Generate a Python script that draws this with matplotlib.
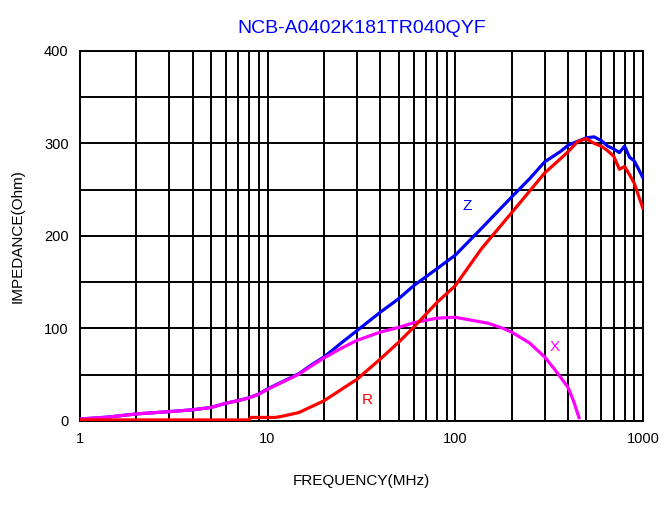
import matplotlib
matplotlib.use("Agg")
import matplotlib.pyplot as plt
from matplotlib.ticker import FixedLocator, NullFormatter

plt.rcParams['font.family'] = ['Liberation Sans', 'DejaVu Sans']

# donnees (MHz, Ohm)
freq_x = [1, 1.4, 2, 3, 4, 5, 6, 7, 8, 9, 10, 11.5, 14.7, 17, 20, 25, 30, 40, 50, 60, 80,
          100, 150, 180, 200, 250, 300, 335, 365, 400, 430, 457]
x_vals = [2, 4, 7.5, 10, 12, 14.5, 19, 22, 25, 29, 34, 40, 50.5, 59, 68, 79, 87, 96, 101, 106, 111,
          112, 105.5, 100, 96, 84, 69, 57, 47, 36, 20, 3.5]

freq_r = [1, 8, 8.1, 11, 12, 14.7, 20, 30, 40, 50, 60, 80, 100, 138, 200, 300, 367, 400,
          450, 500, 550, 600, 650, 700, 750, 800, 850, 900, 950, 1000]
r_vals = [1, 1, 3.7, 3.7, 5, 9, 21.7, 45, 67, 85, 101, 128, 146, 186, 225, 268, 284, 291,
          302, 305, 300, 297, 292, 286, 272, 275, 266, 257, 243, 230]

freq_z = [1, 1.4, 2, 3, 4, 5, 6, 7, 8, 9, 10, 11.5, 14.7, 17, 20, 25, 30, 40, 50, 60, 80, 100,
          138, 200, 250, 300, 363, 400, 500, 550, 600, 650, 700, 750, 800, 850, 900, 950, 1000]
z_vals = [2, 4, 7.5, 10, 12, 14.5, 19, 22, 25, 29, 34.5, 40.5, 51, 60, 69, 85, 97.6, 117.6, 132, 146, 164.5, 179,
          208, 242, 262, 280, 291, 298, 306, 307, 303, 297, 294, 290, 297, 285, 281, 272, 263]

x_ticks = [1, 10, 100, 1000]
y_ticks = [0, 100, 200, 300, 400]

fig = plt.figure(figsize=(6.71, 5.12), dpi=100)
ax = fig.add_axes([0.119, 0.178, 0.839, 0.7227])

ax.set_xscale('log')
ax.set_xlim(1, 1000)
ax.set_ylim(0, 400)

# grille noire : toutes les subdivisions log et tous les 50 Ohm
minor_x = [m * 10**d for d in range(3) for m in range(2, 10)]
ax.xaxis.set_major_locator(FixedLocator(x_ticks))
ax.xaxis.set_minor_locator(FixedLocator(minor_x))
ax.xaxis.set_minor_formatter(NullFormatter())
ax.set_xticklabels([str(t) for t in x_ticks])
ax.yaxis.set_major_locator(FixedLocator(y_ticks))
ax.yaxis.set_minor_locator(FixedLocator([50, 150, 250, 350]))
ax.grid(True, which='both', color='black', linewidth=1.4)
ax.tick_params(which='both', length=0, labelsize=10.5, pad=8)
for s in ax.spines.values():
    s.set_linewidth(1.4)

ax.plot(freq_z, z_vals, color='#0000ff', linewidth=2.3, zorder=3)
ax.plot(freq_x, x_vals, color='#ff00ff', linewidth=2.3, zorder=4)
ax.plot(freq_r, r_vals, color='#ff0000', linewidth=2.3, zorder=5)

ax.text(116, 232, 'Z', color='#0000ff', fontsize=11, ha='center', va='center', zorder=6)
ax.text(33.8, 22.5, 'R', color='#ff0000', fontsize=11, ha='center', va='center', zorder=6)
ax.text(341, 80, 'X', color='#ff00ff', fontsize=11, ha='center', va='center', zorder=6)

ax.set_title('NCB-A0402K181TR040QYF', color='#0000ff', fontsize=14, pad=13)
ax.set_xlabel('FREQUENCY(MHz)', fontsize=11, labelpad=20)
ax.set_ylabel('IMPEDANCE(Ohm)', fontsize=11, labelpad=14)

fig.savefig('out.png', dpi=100)
